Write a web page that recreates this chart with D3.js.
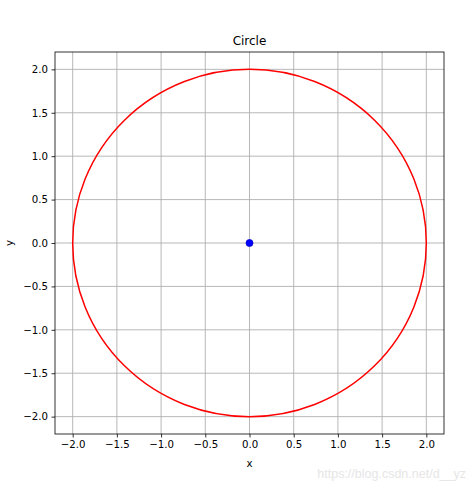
<!DOCTYPE html>
<html>
<head>
<meta charset="utf-8">
<script src="https://cdn.jsdelivr.net/npm/d3@7"></script>
<style>
  html, body { margin: 0; padding: 0; background: #fff; }
  svg { display: block; font-family: "DejaVu Sans", sans-serif; }
</style>
</head>
<body>
<svg id="chart" width="474" height="488"></svg>
<script>
// chart data
var title = 'Circle';
var xLabel = 'x', yLabel = 'y';
var xDomain = [-2.2, 2.2];
var yDomain = [-2.2, 2.2];
var xTicks = [-2.0, -1.5, -1.0, -0.5, 0.0, 0.5, 1.0, 1.5, 2.0];
var yTicks = [-2.0, -1.5, -1.0, -0.5, 0.0, 0.5, 1.0, 1.5, 2.0];
var circles = [{ cx: 0, cy: 0, r: 2 }];
var centers = [{ x: 0, y: 0 }];
var watermark = 'https://blog.csdn.net/d__yz';

var svg = d3.select('#chart');
var margin = { top: 52, right: 30, bottom: 54, left: 55 },
    width = 474 - margin.left - margin.right,
    height = 488 - margin.top - margin.bottom;

var x = d3.scaleLinear().domain(xDomain).range([0, width]);
var y = d3.scaleLinear().domain(yDomain).range([height, 0]);

var g = svg.append('g').attr('transform', 'translate(' + margin.left + ',' + margin.top + ')');

var fmt = function (d) { return d3.format('.1f')(d).replace('-', '\u2212'); };

// grid
g.append('g').selectAll('line').data(xTicks).enter().append('line')
  .attr('x1', function (d) { return x(d); }).attr('x2', function (d) { return x(d); })
  .attr('y1', 0).attr('y2', height)
  .attr('stroke', '#b0b0b0').attr('stroke-width', 0.9);
g.append('g').selectAll('line').data(yTicks).enter().append('line')
  .attr('y1', function (d) { return y(d); }).attr('y2', function (d) { return y(d); })
  .attr('x1', 0).attr('x2', width)
  .attr('stroke', '#b0b0b0').attr('stroke-width', 0.9);

// circle
g.selectAll('ellipse.circ').data(circles).enter().append('ellipse')
  .attr('class', 'circ')
  .attr('cx', function (d) { return x(d.cx); })
  .attr('cy', function (d) { return y(d.cy); })
  .attr('rx', function (d) { return x(d.cx + d.r) - x(d.cx); })
  .attr('ry', function (d) { return y(d.cy) - y(d.cy + d.r); })
  .attr('fill', 'none').attr('stroke', '#ff0000').attr('stroke-width', 1.5);

// center point
g.selectAll('circle.pt').data(centers).enter().append('circle')
  .attr('class', 'pt')
  .attr('cx', function (d) { return x(d.x); })
  .attr('cy', function (d) { return y(d.y); })
  .attr('r', 3.5)
  .attr('fill', '#0000ff').attr('stroke', '#0000cc').attr('stroke-width', 0.8);

// axes
var xAxis = g.append('g').attr('transform', 'translate(0,' + height + ')')
  .call(d3.axisBottom(x).tickValues(xTicks).tickFormat(fmt).tickSizeOuter(0).tickSize(3.5).tickPadding(3.5));
var yAxis = g.append('g')
  .call(d3.axisLeft(y).tickValues(yTicks).tickFormat(fmt).tickSizeOuter(0).tickSize(3.5).tickPadding(3.5));
[xAxis, yAxis].forEach(function (a) {
  a.select('.domain').remove();
  a.selectAll('text').attr('font-size', 10.2).attr('fill', '#000').attr('font-family', '"DejaVu Sans", sans-serif');
  a.selectAll('line').attr('stroke', '#000').attr('stroke-width', 0.8);
});

// frame
g.append('rect').attr('width', width).attr('height', height)
  .attr('fill', 'none').attr('stroke', '#000').attr('stroke-width', 0.8);

// labels
svg.append('text').attr('x', margin.left + width / 2).attr('y', 45)
  .attr('text-anchor', 'middle').attr('font-size', 12).text(title);
svg.append('text').attr('x', margin.left + width / 2).attr('y', 467)
  .attr('text-anchor', 'middle').attr('font-size', 10.2).text(xLabel);
svg.append('text').attr('transform', 'translate(13,' + (margin.top + height / 2) + ') rotate(-90)')
  .attr('text-anchor', 'middle').attr('font-size', 10.2).text(yLabel);

// watermark
svg.append('text').attr('x', 466).attr('y', 478).attr('text-anchor', 'end')
  .attr('font-size', 12.5).attr('font-family', 'Arial, "Liberation Sans", sans-serif')
  .attr('fill', '#e6e6e6').text(watermark);
</script>
</body>
</html>
